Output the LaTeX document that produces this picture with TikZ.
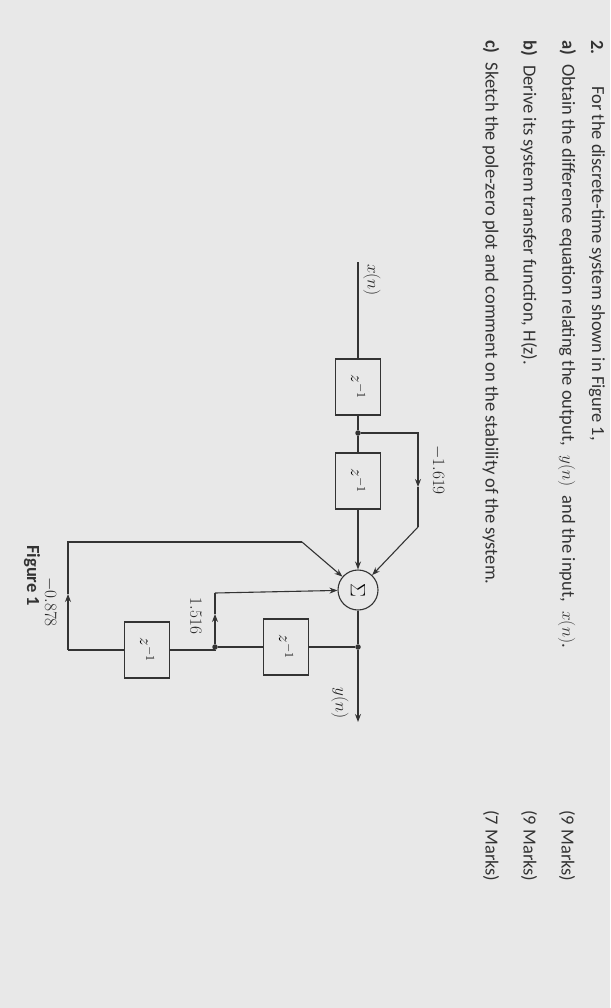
\documentclass[tikz,border=0pt]{standalone}
\usepackage{fontspec}
\setmainfont{Carlito}
\usetikzlibrary{arrows.meta}
\begin{document}
\begin{tikzpicture}[x=1pt,y=-1pt,
  ln/.style={draw=black!80,line width=1.1pt},
  arr/.style={ln,-{Stealth[length=8pt,width=6pt]}},
  blk/.style={ln,rectangle,rotate=-90,minimum width=56pt,minimum height=45pt,inner sep=0pt,font=\fontsize{17}{18}\selectfont},
  sumn/.style={ln,circle,minimum size=40pt,inner sep=0pt,rotate=-90,font=\fontsize{22}{22}\selectfont},
  dotn/.style={circle,fill=black!80,minimum size=5.5pt,inner sep=0pt},
  txt/.style={rotate=-90,anchor=west,inner sep=0pt,font=\fontsize{18.5}{20}\selectfont,text=black!80},
  lbl/.style={rotate=-90,inner sep=0pt,font=\fontsize{19}{20}\selectfont,text=black!85}]
\fill[black!9] (0,0) rectangle (610,1008);
\useasboundingbox (0,0) rectangle (610,1008);
% text
\node[txt] (n2) at (597,40) {\textbf{2.}};
\node[txt] (q) at (597,86) {For the discrete-time system shown in Figure 1,};
\node[txt] (qa) at (567,40) {\textbf{a)}\enspace Obtain the difference equation relating the output, \;$y(n)$\; and the input, \;$x(n)$.};
\node[txt] (ma) at (567,810) {(9 Marks)};
\node[txt] (qb) at (529,40) {\textbf{b)}\enspace Derive its system transfer function, H(z).};
\node[txt] (mb) at (529,810) {(9 Marks)};
\node[txt] (qc) at (491,40) {\textbf{c)}\enspace Sketch the pole-zero plot and comment on the stability of the system.};
\node[txt] (mc) at (491,810) {(7 Marks)};
\node[txt] (fig) at (32,545) {\textbf{Figure 1}};
% diagram
\coordinate (st) at (358,262);
\node[lbl] (xl) at (372,280) {$x(n)$};
\node[blk] (b1) at (358,387) {$z^{-1}$};
\node[dotn] (j1) at (358,433) {};
\node[blk] (b2) at (358,481) {$z^{-1}$};
\node[sumn] (s) at (358,590) {$\Sigma$};
\node[dotn] (j2) at (358,647) {};
\coordinate (yo) at (358,722);
\node[lbl] (yl) at (340,703) {$y(n)$};
\node[blk] (b3) at (286,647) {$z^{-1}$};
\node[dotn] (j3) at (215,647) {};
\node[blk] (b4) at (147,650) {$z^{-1}$};
\coordinate (c1) at (418,433);
\coordinate (c1m) at (418,487);
\coordinate (c2) at (418,527);
\coordinate (c3) at (215,593);
\coordinate (c3m) at (215,614);
\coordinate (c4) at (68,650);
\coordinate (c4m) at (68,594);
\coordinate (c5) at (68,542);
\coordinate (c6) at (302,542);
\node[lbl] (k1) at (438,470) {$-1.619$};
\node[lbl] (k2) at (196,616) {$1.516$};
\node[lbl] (k3) at (50,602) {$-0.878$};
\draw[ln] (st)--(b1)--(j1)--(b2);
\draw[arr] (b2)--(s);
\draw[arr] (j1)--(c1)--(c1m);
\draw[ln] (c1m)--(c2);
\draw[arr] (c2)--(s);
\draw[ln] (s)--(j2);
\draw[arr] (j2)--(yo);
\draw[ln] (j2)--(b3)--(j3);
\draw[ln] (j3)--(215,650)--(b4)--(c4);
\draw[arr] (c4)--(c4m);
\draw[ln] (c4m)--(c5)--(c6);
\draw[arr] (c6)--(s);
\draw[arr] (j3)--(c3m);
\draw[ln] (c3m)--(c3);
\draw[arr] (c3)--(s);
\end{tikzpicture}
\end{document}
